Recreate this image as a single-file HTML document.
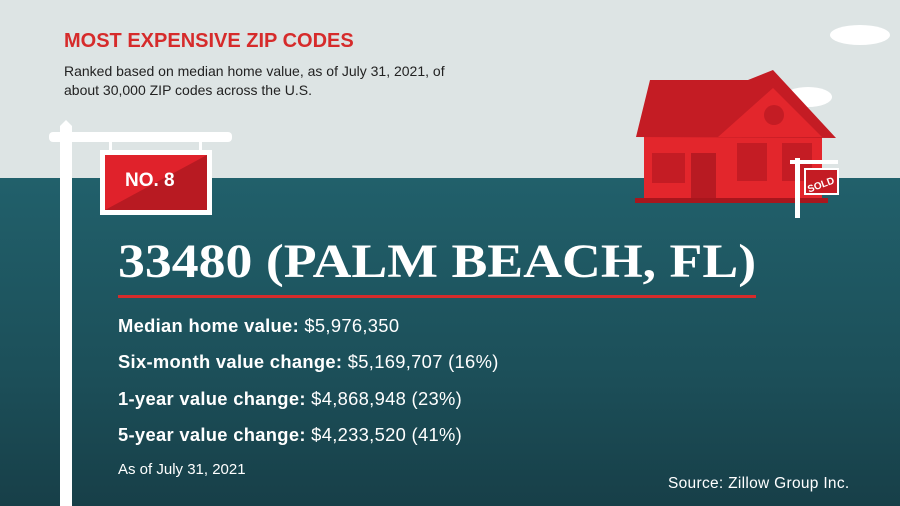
<!DOCTYPE html>
<html><head><meta charset="utf-8"><style>
body{margin:0;width:900px;height:506px;overflow:hidden;font-family:"Liberation Sans",sans-serif;}
.bg{position:absolute;left:0;top:0;width:900px;height:506px;background:#dde4e4;}
.sea{position:absolute;left:0;top:178px;width:900px;height:328px;background:linear-gradient(#21606b,#1c4f59 60%,#173f48);}
.t{position:absolute;white-space:nowrap;}
.s{font-size:18px;letter-spacing:0.3px;color:#fff;transform:scaleX(1.02);transform-origin:left;}
</style></head><body>
<div class="bg"></div><div class="sea"></div>
<svg width="900" height="506" style="position:absolute;left:0;top:0">
<ellipse cx="808" cy="97" rx="24" ry="10" fill="#fff"/>
<ellipse cx="860" cy="35" rx="30" ry="10" fill="#fff"/>
<rect x="60" y="126" width="12" height="380" fill="#fff"/>
<polygon points="60,126 66,120 72,126" fill="#fff"/>
<rect x="49" y="132" width="183" height="10" rx="4" fill="#fff"/>
<rect x="109" y="142" width="3" height="10" fill="#fff"/>
<rect x="199" y="142" width="3" height="10" fill="#fff"/>
<rect x="100" y="150" width="112" height="65" fill="#fff"/>
<rect x="105" y="155" width="102" height="55" fill="#e0222b"/>
<polygon points="207,155 207,210 105,210" fill="#b81a22"/>
<rect x="644" y="136" width="178" height="64" fill="#e3262c"/>
<polygon points="636,137 650,80 748,80 773,70 836,138" fill="#c41c24"/>
<polygon points="718,137 773,88 822,137" fill="#e3262c"/>
<circle cx="774" cy="115" r="10" fill="#c41c24"/>
<rect x="652" y="153" width="33" height="30" fill="#c41c24"/>
<rect x="691" y="153" width="25" height="47" fill="#b81a22"/>
<rect x="737" y="143" width="30" height="38" fill="#c41c24"/>
<rect x="782" y="143" width="30" height="38" fill="#c41c24"/>
<rect x="635" y="198" width="193" height="5" fill="#a8161d"/>
<rect x="795" y="158" width="5" height="60" fill="#fff"/>
<rect x="790" y="160" width="48" height="4" fill="#fff"/>
<rect x="804" y="168" width="35" height="27" fill="#fff"/>
<rect x="806" y="170" width="31" height="23" fill="#c41c24"/>
<text x="821" y="188" font-family="Liberation Sans" font-weight="bold" font-size="10" fill="#fff" text-anchor="middle" transform="rotate(-20 821 185)">SOLD</text>
<rect x="118" y="295" width="638" height="3" fill="#d62b2b"/>
</svg>
<div class="t" style="left:64px;top:30px;font-size:20px;font-weight:bold;color:#d62b2b">MOST EXPENSIVE ZIP CODES</div>
<div class="t" style="left:64px;top:62px;font-size:14px;line-height:19px;color:#222">Ranked based on median home value, as of July 31, 2021, of<br>about 30,000 ZIP codes across the U.S.</div>
<div class="t" style="left:125px;top:170px;font-size:19px;font-weight:bold;color:#fff">NO. 8</div>
<div class="t" style="left:118px;top:234px;font-size:48px;font-weight:bold;color:#fff;font-family:'Liberation Serif',serif;transform:scaleX(1.12);transform-origin:left">33480 (PALM BEACH, FL)</div>
<div class="t s" style="left:118px;top:316px"><b>Median home value:</b> $5,976,350</div>
<div class="t s" style="left:118px;top:352px"><b>Six-month value change:</b> $5,169,707 (16%)</div>
<div class="t s" style="left:118px;top:389px"><b>1-year value change:</b> $4,868,948 (23%)</div>
<div class="t s" style="left:118px;top:425px"><b>5-year value change:</b> $4,233,520 (41%)</div>
<div class="t" style="left:118px;top:461px;font-size:15px;color:#fff">As of July 31, 2021</div>
<div class="t" style="left:668px;top:475px;font-size:15.5px;color:#fff;letter-spacing:0.3px">Source: Zillow Group Inc.</div>
</body></html>
